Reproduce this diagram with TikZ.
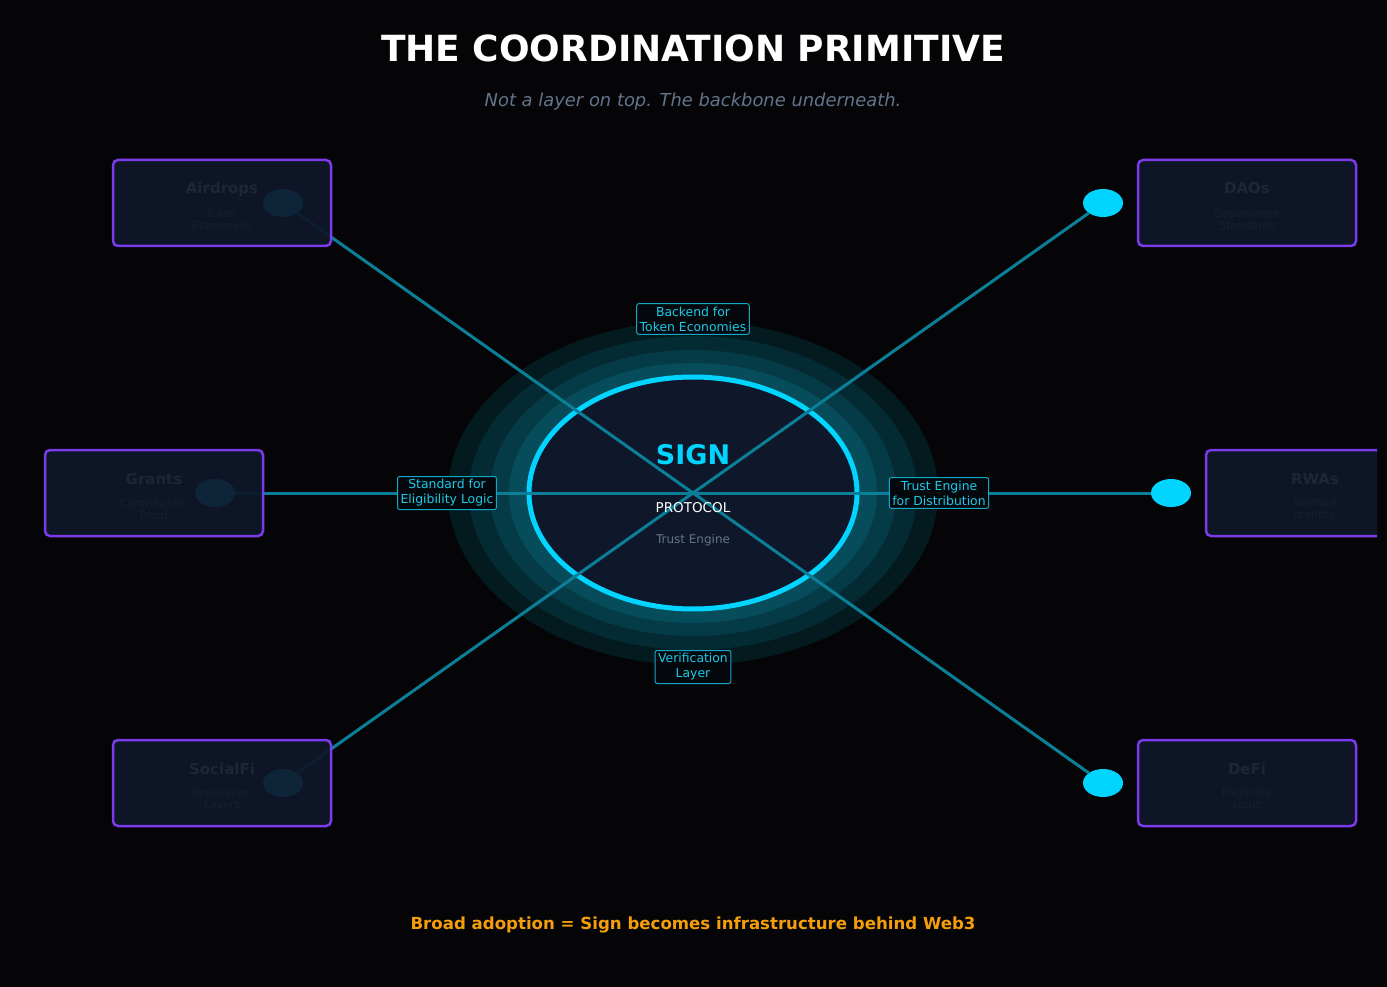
\documentclass[tikz,border=0pt]{standalone}
\usepackage{fontspec}
\setmainfont{DejaVu Sans}
\usetikzlibrary{shapes.geometric}

\definecolor{bgdark}{HTML}{050507}
\definecolor{boxfill}{HTML}{0F172A}
\definecolor{boxedge}{HTML}{7C3AED}
\definecolor{boxtitle}{HTML}{1E2535}
\definecolor{boxsub}{HTML}{142030}
\definecolor{signcyan}{HTML}{00D4FF}
\definecolor{spokecol}{HTML}{0B7F98}
\definecolor{tagtext}{HTML}{1CCBE8}
\definecolor{tagedge}{HTML}{12A8C8}
\definecolor{tagfill}{HTML}{04080C}
\definecolor{slate}{HTML}{64748B}
\definecolor{amber}{HTML}{F59E0B}
\definecolor{glowa}{HTML}{031A1F}
\definecolor{glowb}{HTML}{042B34}
\definecolor{glowc}{HTML}{053B47}
\definecolor{glowd}{HTML}{064C5B}

\begin{document}
\begin{tikzpicture}[x=1pt,y=-1pt,
  usecase/.style={draw=boxedge,line width=2.5pt,rounded corners=5pt,fill=boxfill,
    fill opacity=.93,minimum width=218pt,minimum height=86pt,inner sep=0pt},
  casetitle/.style={anchor=base,text=boxtitle,font=\fontsize{15}{18}\selectfont\bfseries},
  casesub/.style={align=center,text=boxsub,font=\fontsize{11}{12}\selectfont},
  tag/.style={draw=tagedge,line width=1pt,rounded corners=2pt,fill=tagfill,text=tagtext,
    align=center,inner sep=3pt,font=\fontsize{12.4}{15}\selectfont},
  dot/.style={ellipse,fill=signcyan,minimum width=40pt,minimum height=28pt,inner sep=0pt},
  spoke/.style={draw=spokecol,line width=3pt}]

  \useasboundingbox (0,0) rectangle (1387,987);
  \fill[bgdark] (0,0) rectangle (1387,987);

  \node (title) at (693,48) {\fontsize{36}{40}\selectfont\bfseries\color{white}THE COORDINATION PRIMITIVE};
  \node[anchor=base,text=slate] (subtitle) at (693,107) {\fontsize{17.9}{20}\selectfont\itshape Not a layer on top. The backbone underneath.};

  % glow around the hub
  \fill[glowa] (693,493) ellipse [x radius=245pt, y radius=172pt];
  \fill[glowb] (693,493) ellipse [x radius=224pt, y radius=157pt];
  \fill[glowc] (693,493) ellipse [x radius=203pt, y radius=143pt];
  \fill[glowd] (693,493) ellipse [x radius=184pt, y radius=130pt];
  \node[ellipse,draw=signcyan,line width=5pt,fill=boxfill,minimum width=328pt,minimum height=232pt] (hub) at (693,493) {};

  \node[dot] (dairdrops) at (283,203) {};
  \node[dot] (ddaos) at (1103,203) {};
  \node[dot] (dgrants) at (215,493) {};
  \node[dot] (drwas) at (1171,493) {};
  \node[dot] (dsocialfi) at (283,783) {};
  \node[dot] (ddefi) at (1103,783) {};

  \draw[spoke] (hub.center) -- (dairdrops);
  \draw[spoke] (hub.center) -- (ddaos);
  \draw[spoke] (hub.center) -- (dgrants);
  \draw[spoke] (hub.center) -- (drwas);
  \draw[spoke] (hub.center) -- (dsocialfi);
  \draw[spoke] (hub.center) -- (ddefi);

  \node[text=signcyan,font=\fontsize{27}{30}\selectfont\bfseries] (sign) at (693,455) {SIGN};
  \node[text=white,font=\fontsize{13.5}{16}\selectfont] (protocol) at (693,508) {PROTOCOL};
  \node[anchor=base,text=slate,font=\fontsize{12}{14}\selectfont] (engine) at (693,543) {Trust Engine};

  \node[tag] (backend) at (693,319) {Backend for\\Token Economies};
  \node[tag] (standard) at (447,493) {Standard for\\Eligibility Logic};
  \node[tag] (distrib) at (939,493) {Trust Engine\\for Distribution};
  \node[tag] (verify) at (693,667) {Verification\\Layer};

  \begin{scope}
    \clip (0,0) rectangle (1377,987);
    \node[usecase] (airdrops) at (222,203) {};
    \node[usecase] (daos) at (1247,203) {};
    \node[usecase] (grants) at (154,493) {};
    \node[usecase] (rwas) at (1315,493) {};
    \node[usecase] (socialfi) at (222,783) {};
    \node[usecase] (defi) at (1247,783) {};
  \end{scope}

  \node[casetitle] at (222,194) {Airdrops};
  \node[casesub] at (222,219) {Token\\Economies};
  \node[casetitle] at (1247,194) {DAOs};
  \node[casesub] at (1247,219) {Governance\\Standards};
  \node[casetitle] at (154,484) {Grants};
  \node[casesub] at (154,509) {Contribution\\Proof};
  \node[casetitle] at (1315,484) {RWAs};
  \node[casesub] at (1315,509) {Verified\\Identity};
  \node[casetitle] at (222,774) {SocialFi};
  \node[casesub] at (222,799) {Reputation\\Layers};
  \node[casetitle] at (1247,774) {DeFi};
  \node[casesub] at (1247,799) {Eligibility\\Logic};

  \node[anchor=base,text=amber,font=\fontsize{16.6}{19}\selectfont\bfseries] (footer) at (693,929) {Broad adoption = Sign becomes infrastructure behind Web3};
\end{tikzpicture}
\end{document}
